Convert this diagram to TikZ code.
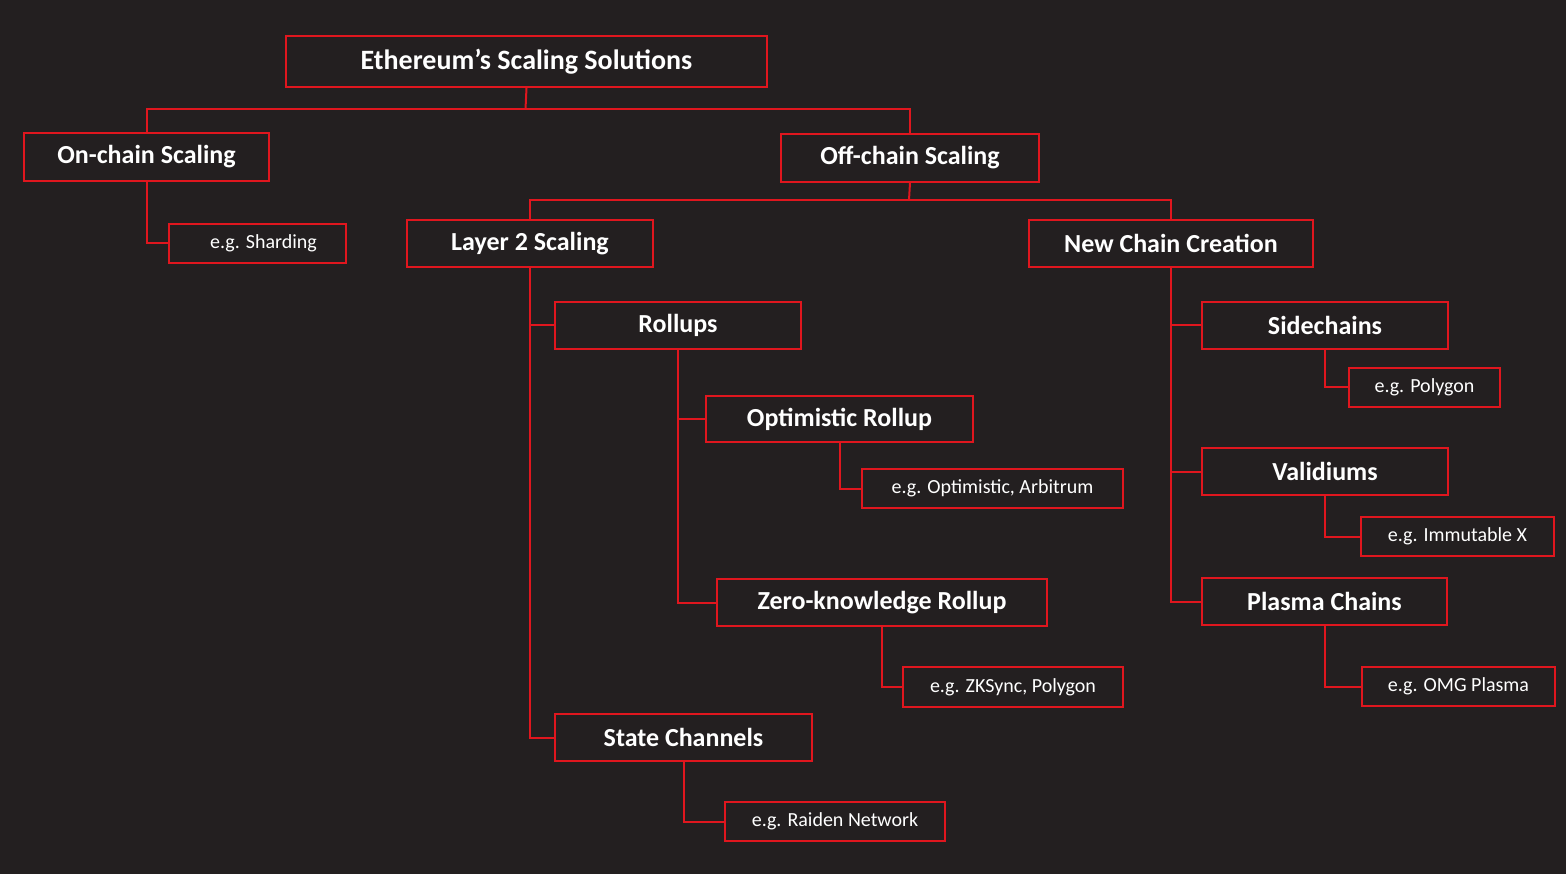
\documentclass[tikz,border=0pt]{standalone}
\usepackage{fontspec}
\setmainfont{Carlito}
\definecolor{bg}{HTML}{231F20}
\definecolor{rd}{HTML}{E0161E}
\begin{document}
\begin{tikzpicture}[x=1pt,y=-1pt,
  box/.style={draw=rd,line width=2pt,text=white,inner sep=0pt,anchor=north west},
  big/.style={box,font=\bfseries\fontsize{26}{30}\selectfont},
  ex/.style={box,font=\fontsize{20}{24}\selectfont,align=left},
  ln/.style={draw=rd,line width=2pt}]
\fill[bg] (0,0) rectangle (1566,874);
\useasboundingbox (0,0) rectangle (1566,874);
\newcommand\bx[7]{\node[#1,minimum width={#5-#3},minimum height={#6-#4}] (#2) at (#3,#4) {#7};}
\bx{big}{title}{285}{35}{766}{86}{\fontsize{28}{32}\selectfont Ethereum’s Scaling Solutions}
\bx{big}{on}{23}{132}{268}{180}{On-chain Scaling}
\bx{big}{off}{780}{133}{1038}{181}{Off-chain Scaling}
\bx{ex}{shard}{168}{223}{345}{262}{\hspace*{12pt}e.g. Sharding\hfill}
\bx{big}{l2}{406}{219}{652}{266}{Layer 2 Scaling}
\bx{big}{nc}{1028}{219}{1312}{266}{New Chain Creation}
\bx{big}{roll}{554}{301}{800}{348}{Rollups}
\bx{big}{opt}{705}{395}{972}{441}{Optimistic Rollup}
\bx{ex}{eopt}{861}{468}{1122}{507}{e.g. Optimistic, Arbitrum}
\bx{big}{zk}{716}{578}{1046}{625}{Zero-knowledge Rollup}
\bx{ex}{ezk}{902}{666}{1122}{706}{e.g. ZKSync, Polygon}
\bx{big}{st}{554}{713}{811}{760}{State Channels}
\bx{ex}{rai}{724}{801}{944}{840}{e.g. Raiden Network}
\bx{big}{side}{1201}{301}{1447}{348}{Sidechains}
\bx{ex}{poly}{1348}{367}{1499}{406}{e.g. Polygon}
\bx{big}{val}{1201}{447}{1447}{494}{Validiums}
\bx{ex}{imx}{1360}{516}{1553}{555}{e.g. Immutable X}
\bx{big}{pla}{1201}{577}{1446}{624}{Plasma Chains}
\bx{ex}{omg}{1361}{666}{1554}{705}{e.g. OMG Plasma}
\coordinate (j1) at (525.5,109);
\coordinate (j2) at (909,200);
\draw[ln] (title.south) -- (j1);
\draw[ln] (on.north) |- (j1) -| (off.north);
\draw[ln] (off.south) -- (j2);
\draw[ln] (l2.north) |- (j2) -| (nc.north);
\draw[ln] (on.south) |- (shard.west);
\draw[ln] (l2.south) |- (roll.west);
\draw[ln] (l2.south) |- (st.west);
\draw[ln] (roll.south) |- (opt.west);
\draw[ln] (roll.south) |- (zk.west);
\draw[ln] (opt.south) |- (eopt.west);
\draw[ln] (zk.south) |- (ezk.west);
\draw[ln] (st.south) |- (rai.west);
\draw[ln] (nc.south) |- (side.west);
\draw[ln] (nc.south) |- (val.west);
\draw[ln] (nc.south) |- (pla.west);
\draw[ln] (side.south) |- (poly.west);
\draw[ln] (val.south) |- (imx.west);
\draw[ln] (pla.south) |- (omg.west);
\end{tikzpicture}
\end{document}
